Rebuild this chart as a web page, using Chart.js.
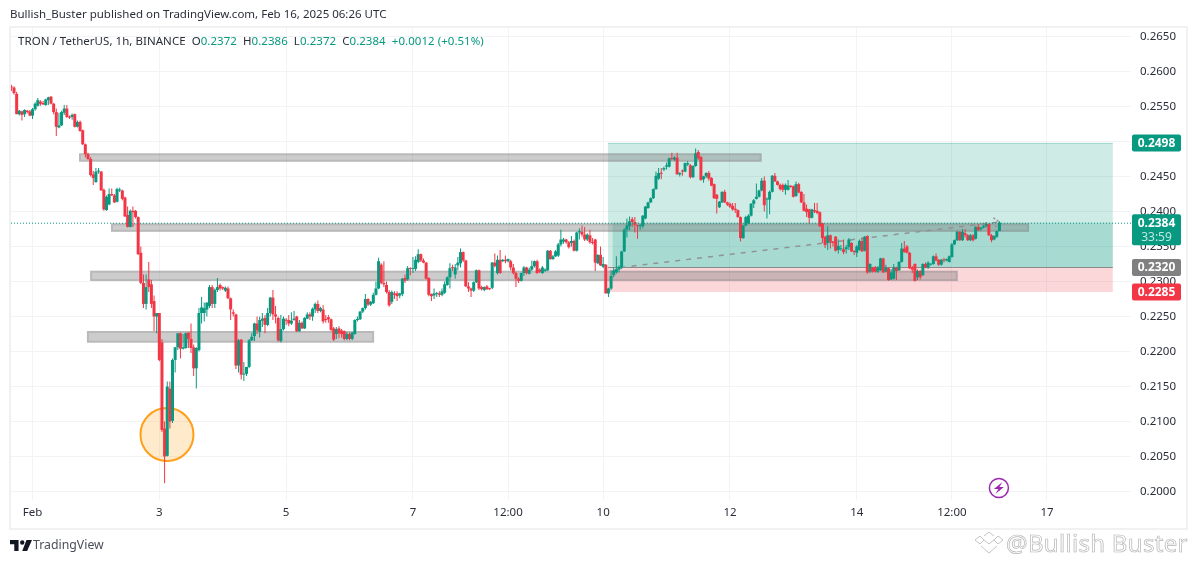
<!DOCTYPE html>
<html>
<head>
<meta charset="utf-8">
<title>TRON / TetherUS</title>
<script src="https://cdn.jsdelivr.net/npm/chart.js@4/dist/chart.umd.js"></script>
<style>
html, body { margin: 0; padding: 0; background: #fff; }
body { width: 1195px; height: 563px; position: relative; overflow: hidden; font-family: "Noto Sans", sans-serif; color: #131722; }
canvas { position: absolute; left: 0; top: 0; }
.frame { position: absolute; left: 9px; top: 26px; width: 1175px; height: 500px; border: 2px solid #f0f1f3; }
.txt { position: absolute; white-space: pre; }
#published { left: 10px; top: 6px; font-size: 11.5px; color: #2a2e39; }
#legend { left: 18px; top: 33px; font-size: 11.5px; letter-spacing: 0.04px; color: #2a2e39; }
#legend span { color: #089981; }
#brand { left: 33px; top: 536px; font-size: 12.3px; color: #4a4e59; }
#logo { position: absolute; left: 10px; top: 540px; }
#mark { left: 1006px; top: 526px; font-size: 24px; color: #fff; -webkit-text-stroke: 0.7px #b5b5b5; letter-spacing: 0.3px; }
#diamond { position: absolute; left: 974px; top: 531px; }
</style>
</head>
<body>
<canvas id="myChart" width="1195" height="563"></canvas>
<div class="frame"></div>
<div class="txt" id="published">Bullish_Buster published on TradingView.com, Feb 16, 2025 06:26 UTC</div>
<div class="txt" id="legend">TRON / TetherUS, 1h, BINANCE  O<span>0.2372</span>  H<span>0.2386</span>  L<span>0.2372</span>  C<span>0.2384</span>  <span>+0.0012 (+0.51%)</span></div>
<svg id="logo" width="22" height="11" viewBox="0 0 36 18"><path d="M14 18H7V7H0V0h14v18zM28 18h-8l7-18h9l-8 18z" fill="#131722"/><circle cx="20" cy="4" r="3.6" fill="#131722"/></svg>
<div class="txt" id="brand">TradingView</div>
<svg id="diamond" width="30" height="24" viewBox="0 0 30 24" fill="none" stroke="#c4c4c4" stroke-width="1"><path d="M1 9l5-4 4 4-4 4zM20 9l4-4 5 4-5 4zM10 5l5-4 5 4M10 9l5 4 5-4M7 15l8 7 8-7"/></svg>
<div class="txt" id="mark">@Bullish Buster</div>

<script>
// candles, 1h, first one is 8 hours before Feb 1 00:00
var firstHour = -8;
var opens = [
.2578,.2577,.2568,.2539,.2543,.2539,.2544,.2543,.2537,.2546,.2551,.2557,.2555,.2552,.2559,.2564,.2554,.2542,.2520,.2523,.2541,.2547,.2535,.2535,.2539,
.2521,.2528,.2516,.2496,.2482,.2475,.2453,.2442,.2457,.2457,.2431,.2402,.2410,.2425,.2423,.2414,.2430,.2430,.2420,.2395,.2378,.2401,.2401,.2392,.2341,
.2298,.2268,.2303,.2296,.2272,.2250,.2255,.2213,.2090,.2051,.2147,.2101,.2188,.2206,.2226,.2204,.2205,.2227,.2218,.2206,.2176,.2202,.2255,.2255,.2260,
.2265,.2292,.2268,.2288,.2295,.2292,.2287,.2290,.2276,.2256,.2253,.2180,.2217,.2167,.2168,.2178,.2216,.2222,.2240,.2228,.2244,.2248,.2238,.2255,.2277,
.2253,.2248,.2215,.2232,.2245,.2245,.2240,.2245,.2250,.2229,.2241,.2233,.2247,.2253,.2250,.2260,.2268,.2258,.2260,.2246,.2249,.2246,.2233,.2225,.2233,
.2230,.2229,.2218,.2225,.2218,.2225,.2245,.2246,.2257,.2262,.2275,.2267,.2269,.2281,.2290,.2324,.2298,.2295,.2285,.2271,.2283,.2283,.2280,.2282,.2305,
.2303,.2319,.2318,.2318,.2328,.2339,.2330,.2327,.2305,.2282,.2280,.2282,.2283,.2281,.2284,.2295,.2306,.2320,.2310,.2323,.2326,.2342,.2330,.2293,.2290,
.2287,.2299,.2316,.2292,.2288,.2293,.2290,.2291,.2327,.2312,.2331,.2329,.2331,.2329,.2329,.2320,.2312,.2304,.2301,.2312,.2320,.2311,.2317,.2322,.2329,
.2317,.2312,.2315,.2316,.2344,.2332,.2336,.2337,.2353,.2357,.2360,.2356,.2355,.2358,.2344,.2370,.2371,.2367,.2360,.2366,.2356,.2360,.2326,.2338,.2321,
.2324,.2283,.2290,.2309,.2313,.2317,.2320,.2343,.2374,.2379,.2389,.2385,.2380,.2379,.2379,.2390,.2405,.2413,.2419,.2432,.2447,.2455,.2460,.2464,.2464,
.2476,.2474,.2477,.2453,.2458,.2457,.2467,.2466,.2449,.2465,.2485,.2478,.2446,.2450,.2455,.2448,.2439,.2424,.2406,.2413,.2428,.2413,.2411,.2408,.2404,
.2402,.2392,.2362,.2380,.2383,.2394,.2411,.2418,.2421,.2430,.2444,.2417,.2417,.2428,.2451,.2443,.2438,.2438,.2431,.2431,.2437,.2436,.2422,.2439,.2428,
.2413,.2404,.2403,.2391,.2402,.2401,.2399,.2383,.2364,.2355,.2366,.2357,.2364,.2345,.2346,.2346,.2346,.2349,.2355,.2343,.2341,.2345,.2358,.2344,.2365,
.2314,.2320,.2320,.2314,.2316,.2333,.2314,.2319,.2303,.2304,.2320,.2316,.2328,.2347,.2350,.2341,.2320,.2325,.2306,.2315,.2309,.2325,.2320,.2324,.2325,
.2336,.2331,.2324,.2331,.2330,.2328,.2335,.2353,.2359,.2371,.2359,.2369,.2366,.2359,.2366,.2361,.2378,.2375,.2377,.2379,.2382,.2366,.2360,.2364,.2372];
var highs = [
.2581,.2579,.2571,.2545,.2544,.2546,.2545,.2545,.2548,.2556,.2562,.2559,.2558,.2561,.2564,.2565,.2555,.2547,.2541,.2544,.2552,.2552,.2537,.2540,.2540,
.2530,.2530,.2517,.2497,.2484,.2478,.2458,.2462,.2462,.2458,.2433,.2423,.2433,.2433,.2425,.2434,.2434,.2431,.2421,.2407,.2403,.2407,.2402,.2393,.2350,
.2310,.2310,.2328,.2302,.2280,.2255,.2255,.2218,.2100,.2157,.2157,.2190,.2206,.2226,.2227,.2225,.2227,.2227,.2240,.2210,.2206,.2262,.2278,.2270,.2270,
.2295,.2295,.2290,.2305,.2297,.2293,.2293,.2293,.2277,.2260,.2254,.2218,.2218,.2185,.2178,.2218,.2226,.2241,.2250,.2250,.2255,.2252,.2262,.2278,.2288,
.2265,.2250,.2252,.2250,.2248,.2252,.2256,.2258,.2251,.2245,.2243,.2249,.2256,.2256,.2263,.2270,.2273,.2264,.2266,.2252,.2252,.2247,.2235,.2235,.2236,
.2232,.2230,.2228,.2227,.2228,.2246,.2250,.2258,.2263,.2282,.2276,.2272,.2284,.2300,.2334,.2326,.2329,.2300,.2288,.2287,.2286,.2286,.2284,.2305,.2310,
.2322,.2320,.2335,.2336,.2346,.2340,.2333,.2328,.2306,.2283,.2290,.2285,.2286,.2290,.2300,.2307,.2326,.2324,.2325,.2335,.2347,.2343,.2331,.2299,.2291,
.2300,.2317,.2317,.2294,.2293,.2295,.2291,.2328,.2340,.2337,.2345,.2332,.2337,.2333,.2331,.2325,.2314,.2306,.2313,.2322,.2321,.2320,.2330,.2330,.2331,
.2319,.2322,.2319,.2345,.2345,.2338,.2345,.2355,.2374,.2362,.2361,.2358,.2365,.2360,.2371,.2376,.2380,.2378,.2369,.2374,.2362,.2361,.2339,.2350,.2335,
.2325,.2291,.2316,.2320,.2336,.2323,.2344,.2376,.2390,.2393,.2392,.2392,.2381,.2382,.2395,.2408,.2414,.2420,.2433,.2457,.2462,.2462,.2464,.2470,.2477,
.2484,.2479,.2484,.2456,.2460,.2470,.2472,.2468,.2466,.2490,.2488,.2479,.2451,.2456,.2458,.2449,.2440,.2425,.2415,.2429,.2431,.2414,.2413,.2412,.2412,
.2403,.2393,.2381,.2394,.2396,.2412,.2418,.2440,.2431,.2448,.2450,.2420,.2430,.2452,.2455,.2444,.2440,.2440,.2440,.2445,.2437,.2437,.2443,.2441,.2429,
.2425,.2410,.2404,.2404,.2412,.2412,.2400,.2384,.2365,.2379,.2367,.2358,.2365,.2360,.2352,.2360,.2352,.2362,.2356,.2345,.2352,.2360,.2363,.2365,.2366,
.2326,.2321,.2322,.2322,.2334,.2334,.2324,.2320,.2318,.2325,.2321,.2329,.2355,.2358,.2352,.2342,.2322,.2326,.2317,.2316,.2326,.2327,.2329,.2326,.2337,
.2340,.2332,.2332,.2334,.2333,.2337,.2355,.2360,.2373,.2372,.2375,.2375,.2368,.2368,.2368,.2379,.2382,.2378,.2381,.2385,.2383,.2368,.2366,.2373,.2386];
var lows = [
.2572,.2567,.2539,.2537,.2530,.2535,.2540,.2536,.2532,.2544,.2550,.2551,.2552,.2551,.2552,.2553,.2539,.2508,.2519,.2522,.2538,.2534,.2532,.2531,.2520,
.2520,.2514,.2495,.2477,.2474,.2450,.2438,.2441,.2454,.2430,.2401,.2401,.2409,.2422,.2412,.2413,.2428,.2416,.2392,.2377,.2377,.2378,.2390,.2338,.2296,
.2262,.2260,.2285,.2262,.2229,.2226,.2186,.2085,.2012,.2050,.2090,.2098,.2170,.2202,.2190,.2203,.2204,.2205,.2198,.2165,.2147,.2200,.2240,.2243,.2250,
.2262,.2262,.2262,.2285,.2287,.2288,.2285,.2275,.2245,.2250,.2175,.2170,.2160,.2158,.2165,.2176,.2215,.2215,.2225,.2220,.2235,.2226,.2236,.2250,.2245,
.2240,.2214,.2213,.2230,.2238,.2236,.2238,.2244,.2228,.2228,.2232,.2232,.2246,.2245,.2244,.2255,.2255,.2256,.2240,.2241,.2241,.2229,.2215,.2218,.2219,
.2220,.2216,.2216,.2216,.2216,.2224,.2243,.2245,.2255,.2260,.2265,.2265,.2268,.2280,.2289,.2296,.2292,.2283,.2264,.2268,.2275,.2272,.2276,.2279,.2298,
.2301,.2309,.2312,.2315,.2326,.2328,.2326,.2303,.2279,.2272,.2275,.2278,.2278,.2279,.2282,.2294,.2290,.2315,.2304,.2316,.2320,.2328,.2292,.2285,.2278,
.2285,.2298,.2288,.2287,.2286,.2288,.2288,.2289,.2320,.2310,.2311,.2328,.2326,.2327,.2316,.2310,.2292,.2298,.2300,.2308,.2310,.2310,.2315,.2320,.2311,
.2312,.2311,.2314,.2315,.2331,.2331,.2335,.2335,.2350,.2354,.2354,.2347,.2350,.2343,.2343,.2360,.2364,.2358,.2358,.2354,.2353,.2315,.2325,.2322,.2319,
.2283,.2278,.2288,.2306,.2311,.2313,.2318,.2342,.2363,.2373,.2378,.2370,.2361,.2374,.2376,.2389,.2404,.2412,.2418,.2431,.2445,.2446,.2458,.2460,.2463,
.2473,.2472,.2453,.2450,.2451,.2456,.2465,.2447,.2448,.2464,.2474,.2444,.2441,.2448,.2444,.2436,.2418,.2397,.2405,.2412,.2412,.2408,.2405,.2401,.2398,
.2391,.2357,.2361,.2379,.2382,.2393,.2405,.2417,.2420,.2429,.2400,.2390,.2396,.2427,.2442,.2437,.2430,.2428,.2424,.2430,.2434,.2420,.2421,.2426,.2412,
.2400,.2392,.2382,.2390,.2398,.2396,.2378,.2355,.2348,.2345,.2347,.2350,.2343,.2340,.2344,.2339,.2340,.2345,.2342,.2338,.2335,.2344,.2342,.2343,.2311,
.2312,.2313,.2313,.2312,.2315,.2312,.2313,.2301,.2302,.2303,.2302,.2315,.2327,.2341,.2340,.2318,.2312,.2300,.2302,.2303,.2308,.2319,.2318,.2323,.2324,
.2329,.2322,.2323,.2327,.2329,.2327,.2334,.2352,.2358,.2358,.2358,.2363,.2358,.2358,.2357,.2360,.2372,.2372,.2376,.2377,.2365,.2356,.2359,.2362,.2372];
var closes = [
.2577,.2569,.2539,.2544,.2538,.2545,.2542,.2537,.2546,.2554,.2559,.2554,.2553,.2560,.2563,.2554,.2542,.2521,.2523,.2542,.2547,.2535,.2534,.2538,.2521,
.2528,.2515,.2496,.2482,.2475,.2452,.2448,.2457,.2458,.2430,.2403,.2421,.2425,.2423,.2413,.2432,.2431,.2418,.2393,.2378,.2401,.2399,.2392,.2339,.2298,
.2268,.2292,.2292,.2268,.2250,.2255,.2188,.2088,.2050,.2150,.2100,.2188,.2206,.2226,.2204,.2206,.2226,.2218,.2205,.2176,.2205,.2255,.2263,.2262,.2270,
.2292,.2268,.2288,.2292,.2290,.2290,.2291,.2276,.2260,.2254,.2180,.2216,.2167,.2168,.2178,.2216,.2221,.2240,.2230,.2245,.2247,.2238,.2255,.2277,.2253,
.2250,.2216,.2232,.2247,.2244,.2240,.2244,.2247,.2229,.2241,.2233,.2248,.2253,.2250,.2261,.2268,.2258,.2262,.2243,.2245,.2246,.2231,.2217,.2232,.2226,
.2225,.2218,.2225,.2218,.2227,.2245,.2246,.2257,.2262,.2275,.2267,.2271,.2281,.2290,.2329,.2298,.2296,.2285,.2266,.2285,.2281,.2279,.2283,.2304,.2301,
.2319,.2318,.2319,.2331,.2339,.2330,.2327,.2304,.2281,.2279,.2283,.2283,.2281,.2286,.2296,.2306,.2319,.2319,.2320,.2327,.2342,.2330,.2293,.2290,.2287,
.2299,.2316,.2290,.2289,.2292,.2289,.2289,.2327,.2322,.2331,.2312,.2331,.2329,.2332,.2320,.2312,.2304,.2301,.2312,.2320,.2312,.2317,.2322,.2329,.2312,
.2314,.2320,.2317,.2344,.2332,.2336,.2343,.2353,.2360,.2360,.2356,.2349,.2358,.2344,.2370,.2372,.2367,.2360,.2367,.2356,.2355,.2327,.2338,.2323,.2325,
.2283,.2290,.2308,.2316,.2318,.2321,.2343,.2374,.2380,.2386,.2385,.2381,.2379,.2379,.2394,.2407,.2413,.2419,.2432,.2451,.2455,.2454,.2462,.2466,.2476,
.2475,.2477,.2453,.2455,.2457,.2469,.2469,.2449,.2465,.2483,.2476,.2445,.2450,.2455,.2447,.2437,.2419,.2418,.2414,.2428,.2413,.2410,.2407,.2403,.2402,
.2392,.2362,.2380,.2392,.2394,.2411,.2416,.2421,.2430,.2444,.2409,.2418,.2428,.2451,.2443,.2438,.2432,.2431,.2438,.2437,.2435,.2421,.2439,.2427,.2413,
.2401,.2399,.2391,.2403,.2400,.2398,.2379,.2362,.2352,.2366,.2357,.2355,.2344,.2351,.2347,.2342,.2349,.2360,.2343,.2342,.2350,.2358,.2343,.2364,.2313,
.2325,.2314,.2314,.2320,.2333,.2313,.2320,.2302,.2313,.2320,.2315,.2328,.2347,.2342,.2341,.2319,.2317,.2301,.2315,.2306,.2325,.2320,.2327,.2325,.2336,
.2330,.2324,.2331,.2330,.2332,.2336,.2353,.2359,.2371,.2359,.2371,.2366,.2359,.2366,.2359,.2378,.2373,.2377,.2379,.2382,.2366,.2359,.2365,.2372,.2384];

// axes
var priceTicks = [0.2000,0.2050,0.2100,0.2150,0.2200,0.2250,0.2300,0.2350,0.2400,0.2450,0.2500,0.2550,0.2600,0.2650];
var dateHours = [0,48,96,144,180,216,264,312,348,384];
var dateLabels = ['Feb','3','5','7','12:00','10','12','14','12:00','17'];

// grey zones drawn on the chart, hours from Feb 1 and prices
var zoneStarts = [17.6,29.7,21.8,20.6];
var zoneEnds = [276,377.2,350.2,129.3];
var zoneTops = [0.24831,0.23831,0.23154,0.22293];
var zoneBottoms = [0.24711,0.2371,0.23007,0.22126];

// long position tool
var positionStart = 217.8, positionEnd = 408.9, activeStart = 219.6;
var targetPrice = 0.2498, entryPrice = 0.2320, stopPrice = 0.2285, lastPrice = 0.2384;
var pathHours = [222.6,366], pathPrices = [0.2320,0.2385];

// price tags on the axis
var tagPrices = [0.2498,0.2320,0.2285];
var tagTexts = ['0.2498','0.2320','0.2285'];
var tagColors = ['#089981','#808080','#f23645'];

// circle around the low, and the lightning marker
var circleHour = 50.9, circlePrice = 0.20814;
var eventHour = 365.8, eventPrice = 0.2005;

var upColor = '#089981', downColor = '#f23645', gridColor = '#f2f3f5', textColor = '#2a2e39';
var candleColors = opens.map(function(o, i) { return closes[i] >= o ? upColor : downColor; });
var bodies = opens.map(function(o, i) { return { x: i + firstHour, y: [o, closes[i]] }; });
var wicks = lows.map(function(l, i) { return { x: i + firstHour, y: [l, highs[i]] }; });
var axisFont = { family: '"Noto Sans", sans-serif', size: 11.5 };

// everything that is not a candle
var drawings = {
    id: 'drawings',
    beforeDatasetsDraw: function(chart) {
        var c = chart.ctx, xs = chart.scales.x, ys = chart.scales.y;
        var left = xs.getPixelForValue(positionStart), right = xs.getPixelForValue(positionEnd);
        var top = ys.getPixelForValue(targetPrice), entry = ys.getPixelForValue(entryPrice), stop = ys.getPixelForValue(stopPrice);
        var last = ys.getPixelForValue(lastPrice), active = xs.getPixelForValue(activeStart);
        c.save();
        // position zones
        c.fillStyle = 'rgba(8,153,129,0.2)';
        c.fillRect(left, top, right - left, entry - top);
        c.fillRect(active, last, right - active, entry - last);
        c.fillStyle = 'rgba(242,54,69,0.2)';
        c.fillRect(left, entry, right - left, stop - entry);
        c.strokeStyle = 'rgba(8,153,129,0.25)';
        c.lineWidth = 1;
        c.beginPath(); c.moveTo(left, top + 0.5); c.lineTo(right, top + 0.5); c.stroke();
        c.strokeStyle = '#8a8a8a';
        c.beginPath(); c.moveTo(left, entry); c.lineTo(right, entry); c.stroke();
        // grey zones
        zoneStarts.forEach(function(s, i) {
            var x0 = xs.getPixelForValue(s), x1 = xs.getPixelForValue(zoneEnds[i]);
            var y0 = ys.getPixelForValue(zoneTops[i]), y1 = ys.getPixelForValue(zoneBottoms[i]);
            c.fillStyle = 'rgba(128,128,128,0.4)';
            c.fillRect(x0, y0, x1 - x0, y1 - y0);
            c.strokeStyle = 'rgba(128,128,128,0.25)';
            c.lineWidth = 2;
            c.strokeRect(x0 + 1, y0 + 1, x1 - x0 - 2, y1 - y0 - 2);
        });
        // dashed path of the position
        c.strokeStyle = '#929292';
        c.lineWidth = 1.5;
        c.setLineDash([5, 6]);
        var px0 = xs.getPixelForValue(pathHours[0]), py0 = ys.getPixelForValue(pathPrices[0]);
        var px1 = xs.getPixelForValue(pathHours[1]), py1 = ys.getPixelForValue(pathPrices[1]);
        c.beginPath(); c.moveTo(px0, py0); c.lineTo(px1, py1); c.stroke();
        c.setLineDash([2, 2]);
        c.beginPath(); c.moveTo(px1 - 6, py1 - 4); c.lineTo(px1, py1); c.lineTo(px1 - 4, py1 + 5); c.stroke();
        c.setLineDash([]);
        // circle at the low
        c.beginPath();
        c.arc(xs.getPixelForValue(circleHour), ys.getPixelForValue(circlePrice), 26.5, 0, Math.PI * 2);
        c.fillStyle = 'rgba(255,152,0,0.2)';
        c.fill();
        c.strokeStyle = '#ff9f1a';
        c.lineWidth = 2;
        c.stroke();
        c.restore();
    },
    afterDraw: function(chart) {
        var c = chart.ctx, xs = chart.scales.x, ys = chart.scales.y, area = chart.chartArea;
        c.save();
        // last price line
        var last = ys.getPixelForValue(lastPrice);
        c.strokeStyle = upColor;
        c.lineWidth = 1;
        c.setLineDash([1, 2]);
        c.beginPath(); c.moveTo(area.left, last + 0.5); c.lineTo(area.right, last + 0.5); c.stroke();
        c.setLineDash([]);
        // lightning marker
        var ex = xs.getPixelForValue(eventHour), ey = ys.getPixelForValue(eventPrice);
        c.beginPath(); c.arc(ex, ey, 9.5, 0, Math.PI * 2);
        c.fillStyle = '#fff'; c.fill();
        c.strokeStyle = '#9c27b0'; c.lineWidth = 1.5; c.stroke();
        c.beginPath();
        c.moveTo(ex + 3.5, ey - 6); c.lineTo(ex - 5, ey + 1); c.lineTo(ex - 0.5, ey + 1);
        c.lineTo(ex - 3.5, ey + 6); c.lineTo(ex + 5, ey - 1); c.lineTo(ex + 0.5, ey - 1);
        c.closePath();
        c.fillStyle = '#9c27b0'; c.fill();
        // price tags
        c.textAlign = 'center';
        c.textBaseline = 'middle';
        tagPrices.forEach(function(p, i) {
            var y = ys.getPixelForValue(p);
            c.fillStyle = tagColors[i];
            c.beginPath(); c.roundRect(1132, y - 8.5, 49, 17, 2); c.fill();
            c.fillStyle = '#fff';
            c.font = 'bold 12px "Noto Sans", sans-serif';
            c.fillText(tagTexts[i], 1156.5, y + 0.5);
        });
        c.fillStyle = upColor;
        c.beginPath(); c.roundRect(1132, last - 8.5, 49, 31, 2); c.fill();
        c.fillStyle = '#fff';
        c.font = 'bold 12px "Noto Sans", sans-serif';
        c.fillText('0.2384', 1156.5, last + 0.5);
        c.fillStyle = 'rgba(255,255,255,0.75)';
        c.font = '12px "Noto Sans", sans-serif';
        c.fillText('33:59', 1156.5, last + 14.5);
        c.restore();
    }
};

var ctx = document.getElementById('myChart').getContext('2d');
var myChart = new Chart(ctx, {
    type: 'bar',
    data: {
        datasets: [{
            label: 'wicks',
            data: wicks,
            backgroundColor: candleColors,
            barThickness: 1,
            inflateAmount: 0,
            grouped: false,
            order: 2,
        }, {
            label: 'bodies',
            data: bodies,
            backgroundColor: candleColors,
            barThickness: 3,
            inflateAmount: 0,
            minBarLength: 1,
            grouped: false,
            order: 1,
        }]
    },
    options: {
        responsive: false,
        animation: false,
        layout: { padding: { left: 11, top: 28, right: 10, bottom: 36 } },
        plugins: { legend: { display: false }, tooltip: { enabled: false } },
        scales: {
            x: {
                type: 'linear',
                min: -8.14,
                max: 415.8,
                offset: false,
                grid: { color: gridColor, offset: false, drawTicks: false },
                border: { display: false },
                afterBuildTicks: function(s) { s.ticks = dateHours.map(function(v) { return { value: v }; }); },
                afterFit: function(s) { s.height = 27; },
                ticks: {
                    autoSkip: false,
                    maxRotation: 0,
                    padding: 6,
                    color: textColor,
                    font: axisFont,
                    callback: function(v) { return dateLabels[dateHours.indexOf(v)]; }
                }
            },
            y: {
                type: 'linear',
                position: 'right',
                min: 0.19879,
                max: 0.26621,
                grid: { color: gridColor, drawTicks: false },
                border: { display: false },
                afterBuildTicks: function(s) { s.ticks = priceTicks.map(function(v) { return { value: v }; }); },
                afterFit: function(s) { s.width = 54; },
                ticks: {
                    autoSkip: false,
                    padding: 9,
                    color: textColor,
                    font: axisFont,
                    callback: function(v) { return v.toFixed(4); }
                }
            }
        }
    },
    plugins: [drawings]
});
</script>
</body>
</html>
